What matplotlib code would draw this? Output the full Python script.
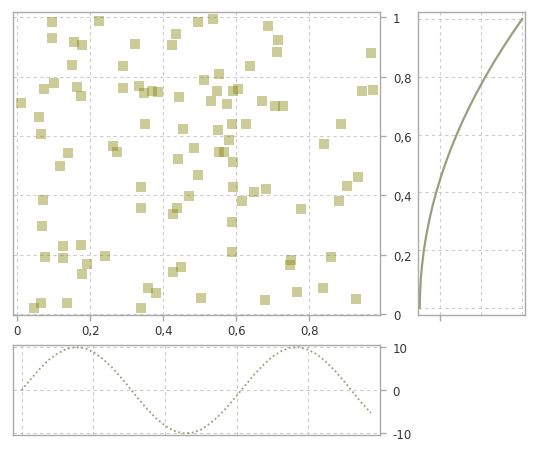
import matplotlib
matplotlib.use('Agg')
import matplotlib.pyplot as plt
from matplotlib.ticker import FuncFormatter

# scatter points (x, y)
pts_x = [0.096, 0.225, 0.096, 0.156, 0.178, 0.151, 0.323, 0.290, 0.436, 0.425,
         0.496, 0.101, 0.074, 0.164, 0.175, 0.011, 0.290, 0.332, 0.348, 0.370,
         0.386, 0.444, 0.058, 0.065, 0.351, 0.455, 0.263, 0.274, 0.140, 0.118,
         0.485, 0.441, 0.511, 0.537, 0.686, 0.714, 0.710, 0.638, 0.970, 0.553,
         0.547, 0.592, 0.605, 0.531, 0.573, 0.671, 0.707, 0.729, 0.945, 0.973,
         0.888, 0.589, 0.627, 0.551, 0.581, 0.841, 0.553, 0.565, 0.592, 0.496,
         0.340, 0.470, 0.071, 0.340, 0.438, 0.426, 0.068, 0.126, 0.175, 0.077,
         0.126, 0.239, 0.192, 0.178, 0.447, 0.426, 0.359, 0.381, 0.504, 0.066,
         0.137, 0.047, 0.340, 0.590, 0.647, 0.682, 0.616, 0.778, 0.882, 0.904,
         0.934, 0.589, 0.589, 0.751, 0.748, 0.858, 0.679, 0.767, 0.836, 0.929]
pts_y = [0.983, 0.987, 0.931, 0.916, 0.906, 0.841, 0.909, 0.835, 0.943, 0.906,
         0.983, 0.777, 0.757, 0.765, 0.734, 0.710, 0.761, 0.767, 0.746, 0.750,
         0.747, 0.730, 0.663, 0.605, 0.639, 0.622, 0.565, 0.545, 0.543, 0.500,
         0.558, 0.521, 0.788, 0.993, 0.970, 0.922, 0.882, 0.836, 0.879, 0.808,
         0.750, 0.751, 0.757, 0.717, 0.707, 0.717, 0.700, 0.700, 0.751, 0.754,
         0.642, 0.639, 0.639, 0.619, 0.585, 0.572, 0.545, 0.545, 0.511, 0.468,
         0.427, 0.398, 0.383, 0.356, 0.356, 0.336, 0.295, 0.228, 0.231, 0.191,
         0.189, 0.194, 0.168, 0.135, 0.157, 0.140, 0.086, 0.069, 0.054, 0.035,
         0.035, 0.019, 0.019, 0.427, 0.410, 0.420, 0.381, 0.352, 0.379, 0.430,
         0.460, 0.309, 0.207, 0.180, 0.164, 0.191, 0.046, 0.075, 0.086, 0.049]

# right panel curve
curve_y = [0, 0.05, 0.1, 0.15, 0.2, 0.25, 0.3, 0.35, 0.4, 0.45, 0.5,
           0.55, 0.6, 0.65, 0.7, 0.75, 0.8, 0.85, 0.9, 0.95, 1.0]
curve_x = [0, 0.0025, 0.01, 0.0225, 0.04, 0.0625, 0.09, 0.1225, 0.16, 0.2025, 0.25,
           0.3025, 0.36, 0.4225, 0.49, 0.5625, 0.64, 0.7225, 0.81, 0.9025, 1.0]

# bottom panel wave
wave_x = [0, 0.025, 0.05, 0.075, 0.1, 0.125, 0.15, 0.175, 0.2, 0.225,
          0.25, 0.275, 0.3, 0.325, 0.35, 0.375, 0.4, 0.425, 0.45, 0.475,
          0.5, 0.525, 0.55, 0.575, 0.6, 0.625, 0.65, 0.675, 0.7, 0.725,
          0.75, 0.775, 0.8, 0.825, 0.85, 0.875, 0.9, 0.925, 0.95, 0.975]
wave_y = [0, 2.5, 4.9, 7.0, 8.5, 9.6, 10.0, 9.8, 8.9, 7.4,
          5.5, 3.2, 0.7, -1.9, -4.3, -6.5, -8.2, -9.4, -10.0, -9.9,
          -9.2, -7.8, -6.0, -3.8, -1.3, 1.2, 3.7, 5.9, 7.8, 9.1,
          9.9, 10.0, 9.4, 8.3, 6.6, 4.5, 2.1, -0.5, -3.0, -5.3]

main_ticks = [0, 0.2, 0.4, 0.6, 0.8, 1]
wave_ticks = [10, 0, -10]

SPINE = '#aaaaaa'
GRID = '#cccccc'
TXT = '#333333'
LINE = '#97a07c'

plt.rcParams['font.family'] = ['DejaVu Sans']
plt.rcParams['font.size'] = 8.5
plt.rcParams['axes.unicode_minus'] = False

comma = FuncFormatter(lambda v, p: ('%g' % round(v, 3)).replace('.', ','))


def style(ax):
    for s in ax.spines.values():
        s.set_color(SPINE)
        s.set_linewidth(1)
    ax.grid(True, color=GRID, linestyle=(0, (3, 3)), linewidth=0.8)
    ax.set_axisbelow(True)
    ax.tick_params(colors=SPINE, labelcolor=TXT, length=4, width=1)


fig = plt.figure(figsize=(5.39, 4.52), dpi=100)

# main scatter
ax = fig.add_axes([0.0247, 0.3015, 0.681, 0.669])
style(ax)
ax.scatter(pts_x, pts_y, marker='s', s=62, color='olive', alpha=0.4, linewidths=0)
ax.set_xlim(-0.011, 0.9945)
ax.set_ylim(-0.003, 1.017)
ax.set_xticks(main_ticks[:-1])
ax.set_yticks(main_ticks)
ax.xaxis.set_major_formatter(comma)
ax.yaxis.set_major_formatter(comma)
ax.yaxis.tick_right()
ax.tick_params(axis='x', pad=3)
ax.tick_params(axis='y', pad=5)

# right panel
ax2 = fig.add_axes([0.775, 0.3015, 0.1996, 0.669])
style(ax2)
ax2.plot(curve_x, curve_y, color=LINE, linewidth=1.6)
ax2.set_xlim(-0.02, 1.03)
ax2.set_ylim(-0.023, 1.023)
ax2.set_xticks([0.2])
ax2.set_xticks([0.6, 1.0], minor=True)
ax2.set_yticks(main_ticks)
ax2.grid(True, which='minor', color=GRID, linestyle=(0, (3, 3)), linewidth=0.8)
ax2.tick_params(axis='x', which='minor', length=0)
ax2.tick_params(axis='y', length=0)
ax2.set_xticklabels([])
ax2.set_yticklabels([])

# bottom panel
ax3 = fig.add_axes([0.0247, 0.0354, 0.680, 0.199])
style(ax3)
ax3.plot(wave_x, wave_y, color=LINE, linewidth=1.3, linestyle=(0, (1, 1.5)))
ax3.set_xlim(-0.023, 1.0)
ax3.set_ylim(-10.4, 10.5)
ax3.set_xticks([0, 0.2, 0.4, 0.6, 0.8])
ax3.set_yticks(wave_ticks)
ax3.yaxis.tick_right()
ax3.tick_params(axis='x', length=0)
ax3.tick_params(axis='y', pad=5)
ax3.set_xticklabels([])

fig.savefig('out.png', dpi=100)
